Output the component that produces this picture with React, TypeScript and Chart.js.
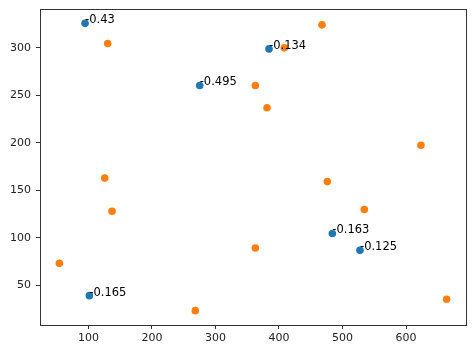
import React, { useEffect, useRef } from "react";
import { Chart, registerables } from "chart.js";

Chart.register(...registerables);

const blueX = [94.7, 275.2, 384.3, 484.0, 527.5, 101.5];
const blueY = [325.8, 260.4, 298.9, 104.6, 86.8, 39.1];
const blueLabels = ["-0.43", "-0.495", "-0.134", "-0.163", "-0.125", "-0.165"];

const orangeX = [130.4, 467.7, 408.4, 362.8, 381.2, 623.5, 125.7, 476.1, 137.2, 534.3, 54.3, 362.8, 268.3, 663.9];
const orangeY = [304.5, 324.2, 300.0, 260.4, 237.0, 197.4, 163.0, 159.2, 128.0, 129.8, 73.1, 89.2, 23.3, 35.3];

const xTicks = [100, 200, 300, 400, 500, 600];
const yTicks = [50, 100, 150, 200, 250, 300];
const xRange = [23.8, 694.4];
const yRange = [8.2, 340.9];

const FONT = "'DejaVu Sans', sans-serif";

const framePlugin = {
  id: "frame",
  afterDraw(chart: any) {
    const { ctx, chartArea } = chart;
    ctx.save();
    ctx.strokeStyle = "#333333";
    ctx.lineWidth = 1;
    ctx.strokeRect(
      Math.round(chartArea.left) + 0.5,
      Math.round(chartArea.top) + 0.5,
      Math.round(chartArea.right - chartArea.left),
      Math.round(chartArea.bottom - chartArea.top)
    );
    ctx.restore();
  },
};

const labelPlugin = {
  id: "pointLabels",
  afterDatasetsDraw(chart: any) {
    const { ctx } = chart;
    const meta = chart.getDatasetMeta(0);
    ctx.save();
    ctx.font = `11.5px ${FONT}`;
    ctx.fillStyle = "#000000";
    ctx.textAlign = "left";
    ctx.textBaseline = "alphabetic";
    meta.data.forEach((el: any, i: number) => {
      ctx.fillText(blueLabels[i], el.x, el.y);
    });
    ctx.restore();
  },
};

export default function App() {
  const ref = useRef<HTMLCanvasElement>(null);
  useEffect(() => {
    if (!ref.current) return;
    const chart = new Chart(ref.current, {
      type: "scatter",
      data: {
        datasets: [
          {
            data: blueX.map((x, i) => ({ x, y: blueY[i] })),
            backgroundColor: "#1f77b4",
            borderColor: "#1f77b4",
            borderWidth: 0,
            pointRadius: 3.8,
            order: 2,
          },
          {
            data: orangeX.map((x, i) => ({ x, y: orangeY[i] })),
            backgroundColor: "#ff7f0e",
            borderColor: "#ff7f0e",
            borderWidth: 0,
            pointRadius: 3.8,
            order: 1,
          },
        ],
      },
      options: {
        animation: false,
        responsive: false,
        maintainAspectRatio: false,
        layout: { padding: { top: 9, right: 8, left: 0, bottom: 0 } },
        plugins: { legend: { display: false }, tooltip: { enabled: false } },
        scales: {
          x: {
            type: "linear",
            min: xRange[0],
            max: xRange[1],
            afterBuildTicks: (s: any) => {
              s.ticks = xTicks.map((v) => ({ value: v }));
            },
            afterFit: (s: any) => {
              s.height = 29;
              s.paddingLeft = 0;
              s.paddingRight = 0;
            },
            grid: {
              display: true,
              drawOnChartArea: false,
              drawTicks: true,
              tickLength: 4,
              color: "#333333",
            },
            border: { display: false },
            ticks: {
              color: "#222222",
              font: { family: FONT, size: 11 },
              padding: 3,
              maxRotation: 0,
              autoSkip: false,
            },
          },
          y: {
            type: "linear",
            min: yRange[0],
            max: yRange[1],
            afterBuildTicks: (s: any) => {
              s.ticks = yTicks.map((v) => ({ value: v }));
            },
            afterFit: (s: any) => {
              s.width = 40;
              s.paddingTop = 0;
              s.paddingBottom = 0;
            },
            grid: {
              display: true,
              drawOnChartArea: false,
              drawTicks: true,
              tickLength: 4,
              color: "#333333",
            },
            border: { display: false },
            ticks: {
              color: "#222222",
              font: { family: FONT, size: 11 },
              padding: 5,
              autoSkip: false,
            },
          },
        },
      },
      plugins: [framePlugin, labelPlugin],
    });
    return () => chart.destroy();
  }, []);
  return (
    <div style={{ position: "fixed", left: 0, top: 0, width: 474, height: 354, background: "#fff" }}>
      <canvas ref={ref} width={474} height={354} style={{ width: 474, height: 354, display: "block" }} />
    </div>
  );
}
